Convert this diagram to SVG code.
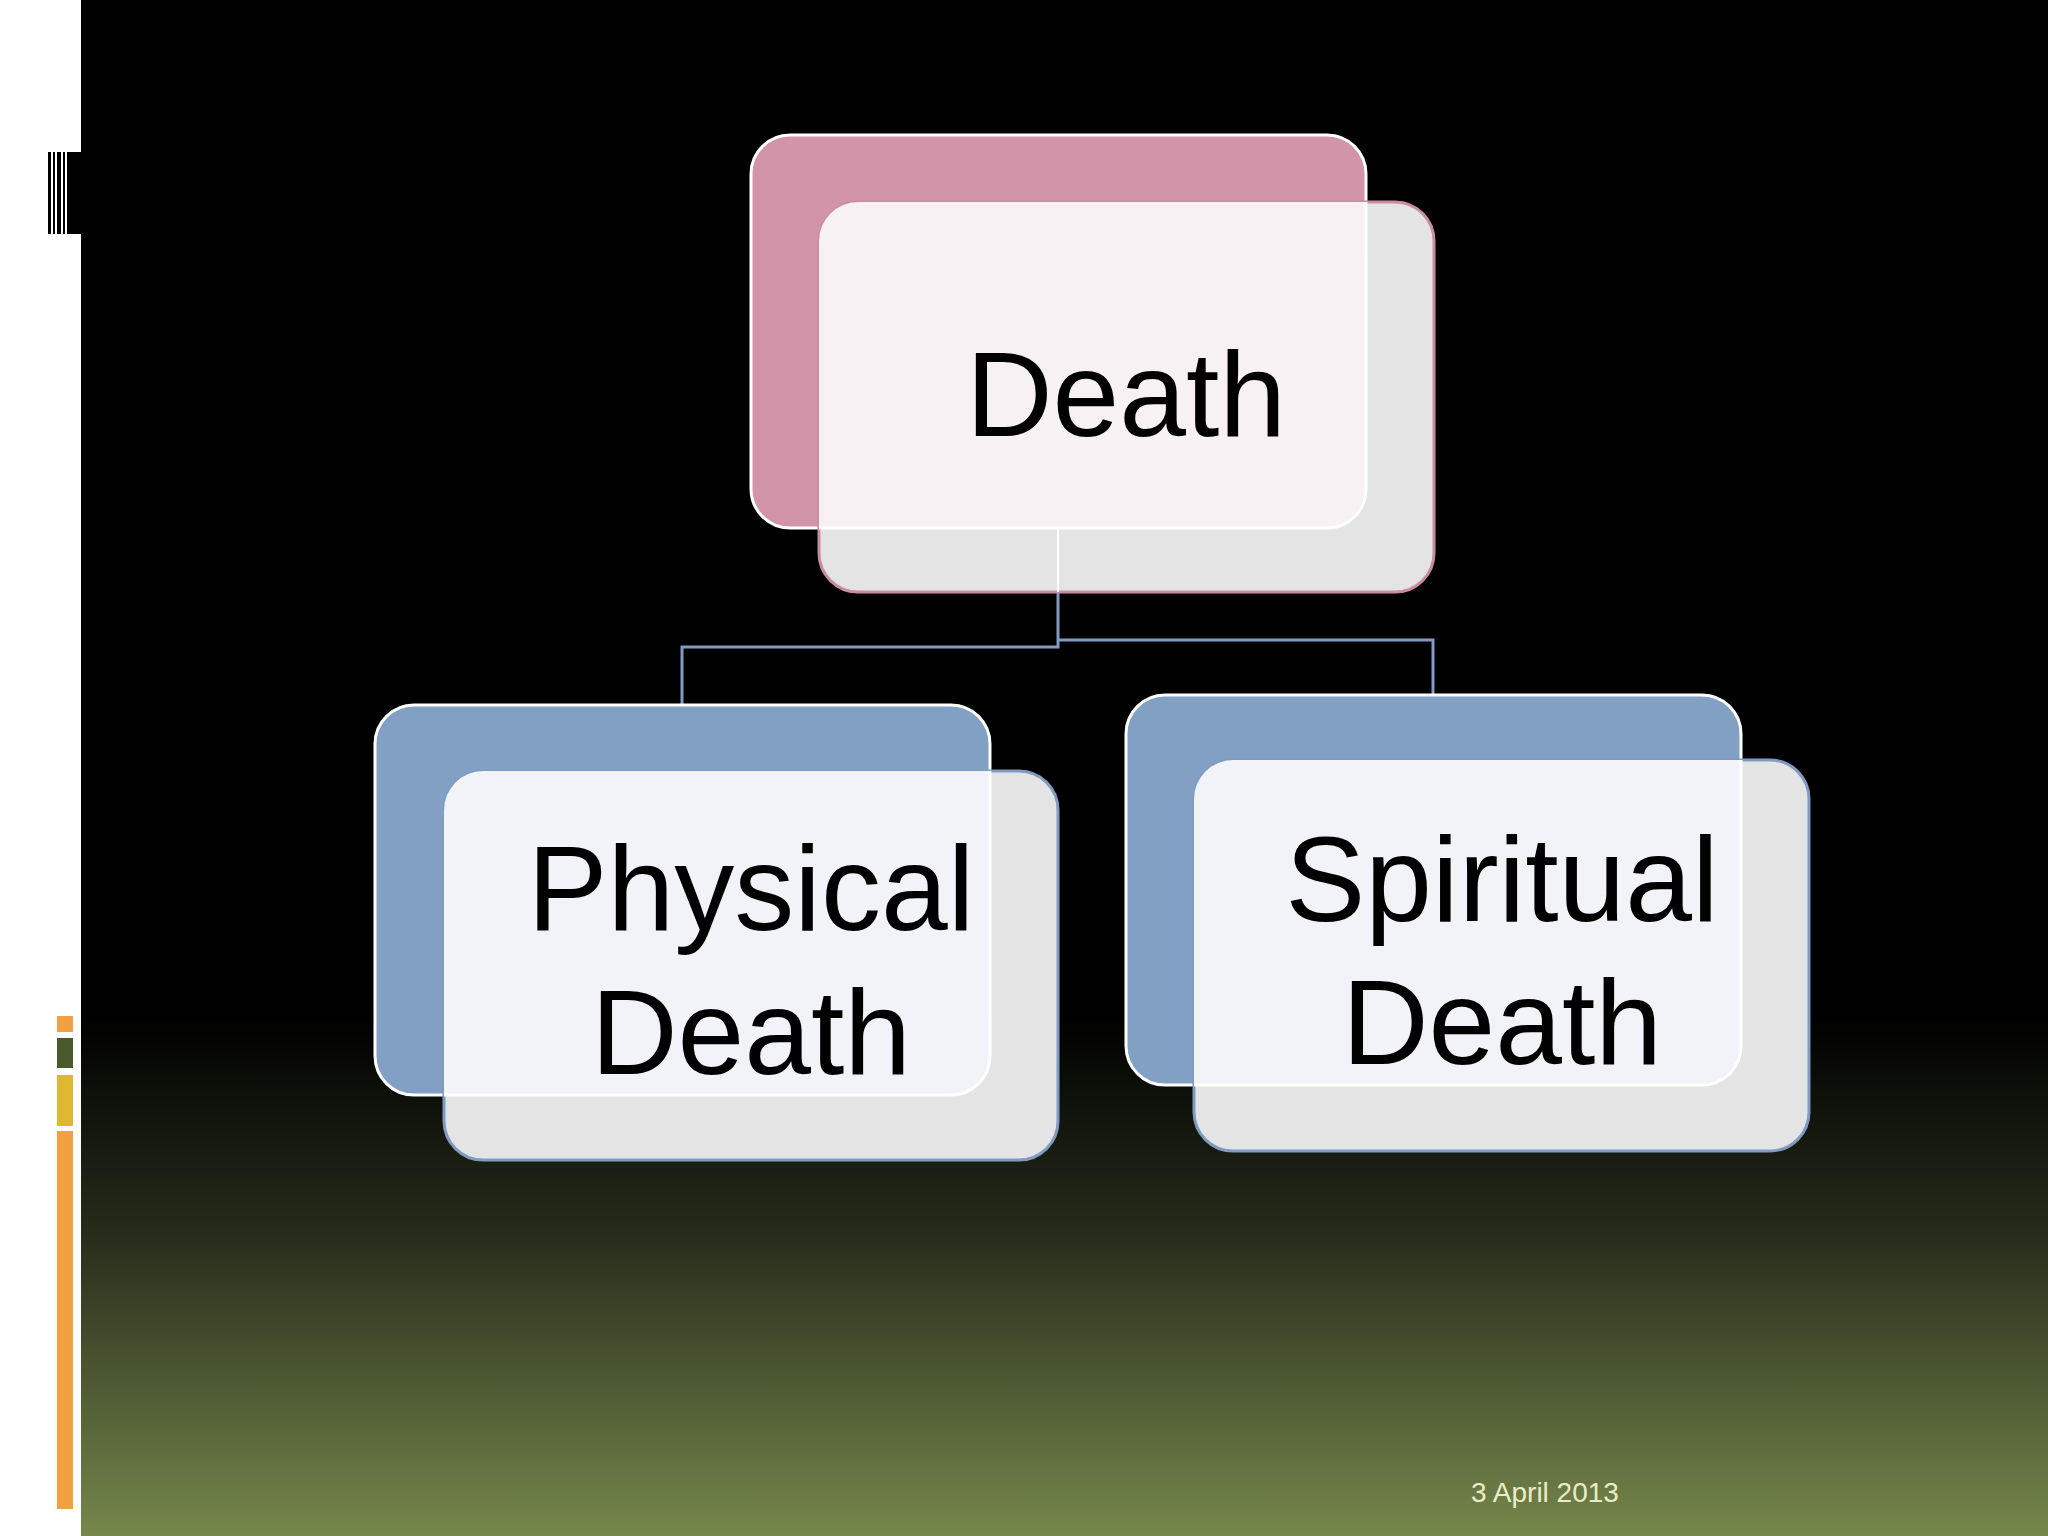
<svg xmlns="http://www.w3.org/2000/svg" width="2048" height="1536" viewBox="0 0 2048 1536">
<defs>
<linearGradient id="bg" x1="0" y1="0" x2="0" y2="1">
<stop offset="0" stop-color="#000"/><stop offset="0.66" stop-color="#000"/><stop offset="0.8" stop-color="#252b1a"/><stop offset="1" stop-color="#76874b"/>
</linearGradient>
<clipPath id="c1"><rect x="819" y="202" width="615" height="390" rx="39"/></clipPath>
<clipPath id="c2"><rect x="444" y="771" width="614" height="389" rx="39"/></clipPath>
<clipPath id="c3"><rect x="1194" y="760" width="615" height="391" rx="39"/></clipPath>
<style>
.t{font-family:"Liberation Sans",Arial,sans-serif;font-size:120px;fill:#000;text-anchor:middle}
.fr{fill:#e4e4e4;stroke-width:3}
.ov{stroke:#fff;stroke-width:3}
</style>
</defs>
<rect width="2048" height="1536" fill="url(#bg)"/>
<rect width="81" height="1536" fill="#fff"/>
<g fill="#000"><rect x="48" y="152" width="3" height="82"/><rect x="53" y="152" width="2" height="82"/><rect x="57" y="152" width="4" height="82"/><rect x="63" y="152" width="2" height="82"/><rect x="67" y="152" width="14" height="82"/></g>
<rect x="57" y="1016" width="16" height="16" fill="#f0a040"/>
<rect x="57" y="1038" width="16" height="30" fill="#4a5a2a"/>
<rect x="57" y="1075" width="16" height="51" fill="#e0b830"/>
<rect x="57" y="1131" width="16" height="378" fill="#f0a040"/>
<g id="connectors" fill="none" stroke="#7f9bc0" stroke-width="3">
<path d="M1058 528V647H682V705"/><path d="M1058 640H1433V695"/>
</g>
<g id="death">
<rect x="751" y="135" width="615" height="393" rx="39" fill="#d294a8" class="ov"/>
<rect x="819" y="202" width="615" height="390" rx="39" class="fr" stroke="#c98ca0"/>
<rect x="751" y="135" width="615" height="393" rx="39" fill="#f8f1f4" class="ov" clip-path="url(#c1)"/>
<line x1="1058" y1="528" x2="1058" y2="592" stroke="#fff" stroke-width="2"/>
<text class="t" x="1126" y="436">Death</text>
</g>
<g id="physical">
<rect x="375" y="705" width="615" height="390" rx="39" fill="#82a0c4" class="ov"/>
<rect x="444" y="771" width="614" height="389" rx="39" class="fr" stroke="#7f9bc0"/>
<rect x="375" y="705" width="615" height="390" rx="39" fill="#f1f3f9" class="ov" clip-path="url(#c2)"/>
<text class="t" x="751" y="930">Physical</text>
<text class="t" x="751" y="1074">Death</text>
</g>
<g id="spiritual">
<rect x="1126" y="695" width="615" height="390" rx="39" fill="#82a0c4" class="ov"/>
<rect x="1194" y="760" width="615" height="391" rx="39" class="fr" stroke="#7f9bc0"/>
<rect x="1126" y="695" width="615" height="390" rx="39" fill="#f1f3f9" class="ov" clip-path="url(#c3)"/>
<text class="t" x="1502" y="921">Spiritual</text>
<text class="t" x="1502" y="1064">Death</text>
</g>
<text x="1471" y="1502" font-family="Liberation Sans,Arial,sans-serif" font-size="28" fill="#ecebc8">3 April 2013</text>
</svg>
